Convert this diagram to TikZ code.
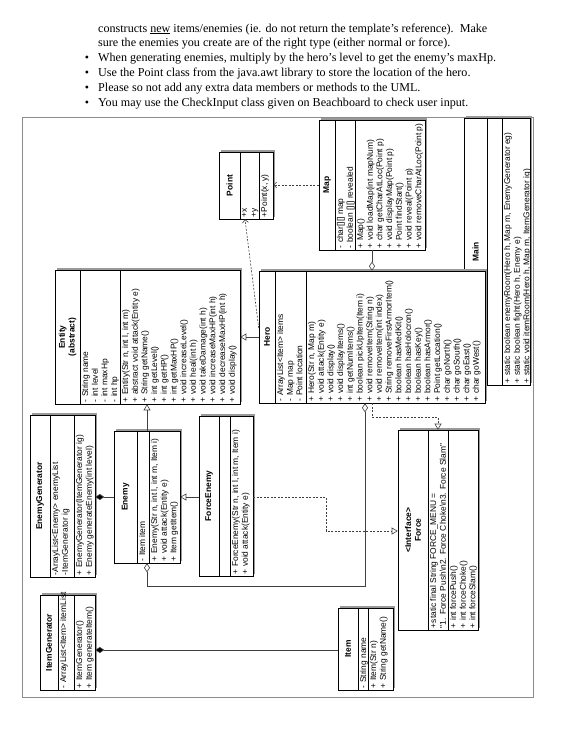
\documentclass[tikz,border=0pt]{standalone}
\usepackage{fontspec}
\setmainfont{Liberation Serif}
\newfontfamily\umlfont{Liberation Sans}
\usetikzlibrary{arrows.meta,fit,shadows}
\begin{document}
\begin{tikzpicture}[x=1pt,y=-1pt,
  cls/.style={draw=black, line width=0.6pt, fill=white, inner sep=0pt,
    drop shadow={shadow xshift=1.8pt, shadow yshift=1.8pt, fill=black!40, opacity=1}},
  frm/.style={draw=black!45, line width=0.6pt, inner sep=0pt},
  sep/.style={line width=0.5pt},
  txt/.style={rotate=90, anchor=north west, inner sep=1.8pt, align=left,
    font=\umlfont\fontsize{8.4}{9.7}\selectfont},
  ttl/.style={rotate=90, inner sep=0pt, align=center,
    font=\umlfont\bfseries\fontsize{8.4}{9.7}\selectfont},
  para/.style={anchor=base west, inner sep=0pt, font=\fontsize{12.1}{14}\selectfont},
  bul/.style={anchor=base, inner sep=0pt, font=\fontsize{12}{14}\selectfont},
  conn/.style={draw=black!75, line width=0.6pt},
  inh/.style={conn, -{Triangle[open, length=6pt, width=7pt]}},
  real/.style={conn, dash pattern=on 2pt off 1.5pt, -{Triangle[open, length=6pt, width=7pt]}},
  dep/.style={conn, dash pattern=on 2pt off 1.5pt, -{Straight Barb[length=3pt, width=6pt]}},
  compo/.style={conn, {Diamond[length=9pt, width=6pt, fill=black]}-},
  aggr/.style={conn, {Diamond[open, length=9pt, width=6pt, fill=white]}-},
  aggr2/.style={conn, {Diamond[open, length=9pt, width=6pt, fill=white]}-{Diamond[open, length=9pt, width=6pt, fill=white]}}
]
\useasboundingbox (0,0) rectangle (565,748);

% ---------- text above the diagram ----------
\node[para] (l1) at (98,32) {constructs \underline{new} items/enemies (ie. do not return the template's reference).\ \ Make};
\node[para] (l2) at (98,46.8) {sure the enemies you create are of the right type (either normal or force).};
\node[bul] (b3) at (87,61.6) {\textbullet};
\node[para] (l3) at (98,61.6) {When generating enemies, multiply by the hero's level to get the enemy's maxHp.};
\node[bul] (b4) at (87,76.4) {\textbullet};
\node[para] (l4) at (98,76.4) {Use the Point class from the java.awt library to store the location of the hero.};
\node[bul] (b5) at (87,91.2) {\textbullet};
\node[para] (l5) at (98,91.2) {Please so not add any extra data members or methods to the UML.};
\node[bul] (b6) at (87,106) {\textbullet};
\node[para] (l6) at (98,106) {You may use the CheckInput class given on Beachboard to check user input.};

% ---------- frame ----------
\node[frm, fit={(22,117) (533,697)}] (frame) {};

% ---------- Main (drawn first, Hero overlaps it) ----------
\node[cls, fit={(464,118) (530,385)}] (main) {};
\draw[sep] (487,0 |- main.north) -- (487,0 |- main.south);
\draw[sep] (502,0 |- main.north) -- (502,0 |- main.south);
\node[ttl] (mainT) at (475.5,251.5) {Main};
\node[txt] (mainM) at (502,385) {+ static boolean enemyRoom(Hero h, Map m, EnemyGenerator eg)\\+ static boolean fight(Hero h, Enemy e)\\+ static void itemRoom(Hero h, Map m, ItemGenerator ig)};

% ---------- EnemyGenerator ----------
\node[cls, fit={(30,415) (95,577)}] (egen) {};
\draw[sep] (50,0 |- egen.north) -- (50,0 |- egen.south);
\draw[sep] (74,0 |- egen.north) -- (74,0 |- egen.south);
\node[ttl] (egenT) at (40,496) {EnemyGenerator};
\node[txt] (egenA) at (50,577) {-ArrayList<Enemy> enemyList\\-ItemGenerator ig};
\node[txt] (egenM) at (74,577) {+ EnemyGenerator(ItemGenerator ig)\\+ Enemy generateEnemy(int level)};

% ---------- ItemGenerator ----------
\node[cls, fit={(40,595) (95,690)}] (igen) {};
\draw[sep] (58,0 |- igen.north) -- (58,0 |- igen.south);
\draw[sep] (74,0 |- igen.north) -- (74,0 |- igen.south);
\node[ttl] (igenT) at (49,642.5) {ItemGenerator};
\node[txt] (igenA) at (58,690) {- ArrayList<Item> itemList};
\node[txt] (igenM) at (74,690) {+ ItemGenerator()\\+ Item generateItem()};

% ---------- Entity ----------
\node[cls, fit={(55,270) (240,404)}] (entity) {};
\draw[sep] (80,0 |- entity.north) -- (80,0 |- entity.south);
\draw[sep] (120,0 |- entity.north) -- (120,0 |- entity.south);
\node[ttl] (entityT) at (67.5,337) {Entity\\(abstract)};
\node[txt] (entityA) at (80,404) {- String name\\- int level\\- int maxHp\\- int hp};
\node[txt] (entityM) at (120,404) {+ Entity(Str n, int l, int m)\\+ abstract void attack(Entity e)\\+ String getName()\\+ int getLevel()\\+ int getHP()\\+ int getMaxHP()\\+ void increaseLevel()\\+ void heal(int h)\\+ void takeDamage(int h)\\+ void increaseMaxHP(int h)\\+ void decreaseMaxHP(int h)\\+ void display()};

% ---------- Enemy ----------
\node[cls, fit={(114,431) (180,563)}] (enemy) {};
\draw[sep] (137,0 |- enemy.north) -- (137,0 |- enemy.south);
\draw[sep] (149,0 |- enemy.north) -- (149,0 |- enemy.south);
\node[ttl] (enemyT) at (125.5,497) {Enemy};
\node[txt] (enemyA) at (137,563) {- Item item};
\node[txt] (enemyM) at (149,563) {+ Enemy(Str n, int l, int m, Item i)\\+ void attack(Entity e)\\+ Item getItem()};

% ---------- ForceEnemy ----------
\node[cls, fit={(199,416) (253,576)}] (fenemy) {};
\draw[sep] (219,0 |- fenemy.north) -- (219,0 |- fenemy.south);
\draw[sep] (230,0 |- fenemy.north) -- (230,0 |- fenemy.south);
\node[ttl] (fenemyT) at (209,496) {ForceEnemy};
\node[txt] (fenemyM) at (230,576) {+ ForceEnemy(Str n, int l, int m, Item i)\\+ void attack(Entity e)};

% ---------- Point ----------
\node[cls, fit={(219,152) (273,219)}] (point) {};
\draw[sep] (240,0 |- point.north) -- (240,0 |- point.south);
\draw[sep] (259,0 |- point.north) -- (259,0 |- point.south);
\node[ttl] (pointT) at (229.5,185.5) {Point};
\node[txt] (pointA) at (240,219) {+x\\+y};
\node[txt] (pointM) at (259,219) {+Point(x, y)};

% ---------- Map ----------
\node[cls, fit={(319,120) (425,250)}] (map) {};
\draw[sep] (335,0 |- map.north) -- (335,0 |- map.south);
\draw[sep] (355,0 |- map.north) -- (355,0 |- map.south);
\node[ttl] (mapT) at (327,185) {Map};
\node[txt] (mapA) at (335,250) {- char[][] map\\- boolean [][] revealed};
\node[txt] (mapM) at (355,250) {+ Map()\\+ void loadMap(int mapNum)\\+ char getCharAtLoc(Point p)\\+ void displayMap(Point p)\\+ Point findStart()\\+ void reveal(Point p)\\+ void removeCharAtLoc(Point p)};

% ---------- Hero ----------
\node[cls, fit={(259,271) (485,403)}] (hero) {};
\draw[sep] (275,0 |- hero.north) -- (275,0 |- hero.south);
\draw[sep] (306,0 |- hero.north) -- (306,0 |- hero.south);
\node[ttl] (heroT) at (267,337) {Hero};
\node[txt] (heroA) at (275,403) {- ArrayList<Item> items\\- Map map\\- Point location};
\node[txt] (heroM) at (306,403) {+ Hero(Str n, Map m)\\+ void attack(Entity e)\\+ void display()\\+ void displayItems()\\+ int getNumItems()\\+ boolean pickUpItem(Item i)\\+ void removeItem(String n)\\+ void removeItem(int index)\\+ String removeFirstArmorItem()\\+ boolean hasMedKit()\\+ boolean hasHolocron()\\+ boolean hasKey()\\+ boolean hasArmor()\\+ Point getLocation()\\+ char goNorth()\\+ char goSouth()\\+ char goEast()\\+ char goWest()};

% ---------- Force ----------
\node[cls, fit={(398,430) (478,630)}] (force) {};
\draw[sep] (428,0 |- force.north) -- (428,0 |- force.south);
\draw[sep] (448,0 |- force.north) -- (448,0 |- force.south);
\node[ttl] (forceT) at (413,530) {<Interface>\\Force};
\node[txt] (forceA) at (428,630) {+static final String FORCE\_MENU =\\"1. Force Push\textbackslash n2. Force Choke\textbackslash n3. Force Slam"};
\node[txt] (forceM) at (448,630) {+ int forcePush()\\+ int forceChoke()\\+ int forceSlam()};

% ---------- Item ----------
\node[cls, fit={(338,608) (393,690)}] (item) {};
\draw[sep] (358,0 |- item.north) -- (358,0 |- item.south);
\draw[sep] (368,0 |- item.north) -- (368,0 |- item.south);
\node[ttl] (itemT) at (348,649) {Item};
\node[txt] (itemA) at (358,690) {- String name};
\node[txt] (itemM) at (368,690) {+ Item(Str n)\\+ String getName()};

% ---------- connectors ----------
\draw[compo] (egen.east |- 0,497) -- (enemy.west |- 0,497);
\draw[compo] (igen.east |- 0,650) -- (item.west |- 0,650);
\draw[inh] (enemy.north -| 147,0) -- (entity.south -| 147,0);
\draw[inh] (fenemy.west |- 0,497) -- (enemy.east |- 0,497);
\draw[inh] (hero.west |- 0,337) -- (entity.east |- 0,337);
\draw[dep] (hero.west |- 0,328) -- (point.south -| 245,0);
\draw[dep] (map.west |- 0,185) -- (point.east |- 0,185);
\draw[aggr] (hero.north -| 372,0) -- (map.south -| 372,0);
\draw[aggr2] (hero.south -| 365,0) -- (365,586) -| (enemy.south -| 147,0);
\draw[real] (hero.south -| 372,0) -- (372,417) -| (force.north -| 438,0);
\draw[real] (fenemy.east |- 0,497) -- (326,497) |- (force.west |- 0,531);
\end{tikzpicture}
\end{document}
